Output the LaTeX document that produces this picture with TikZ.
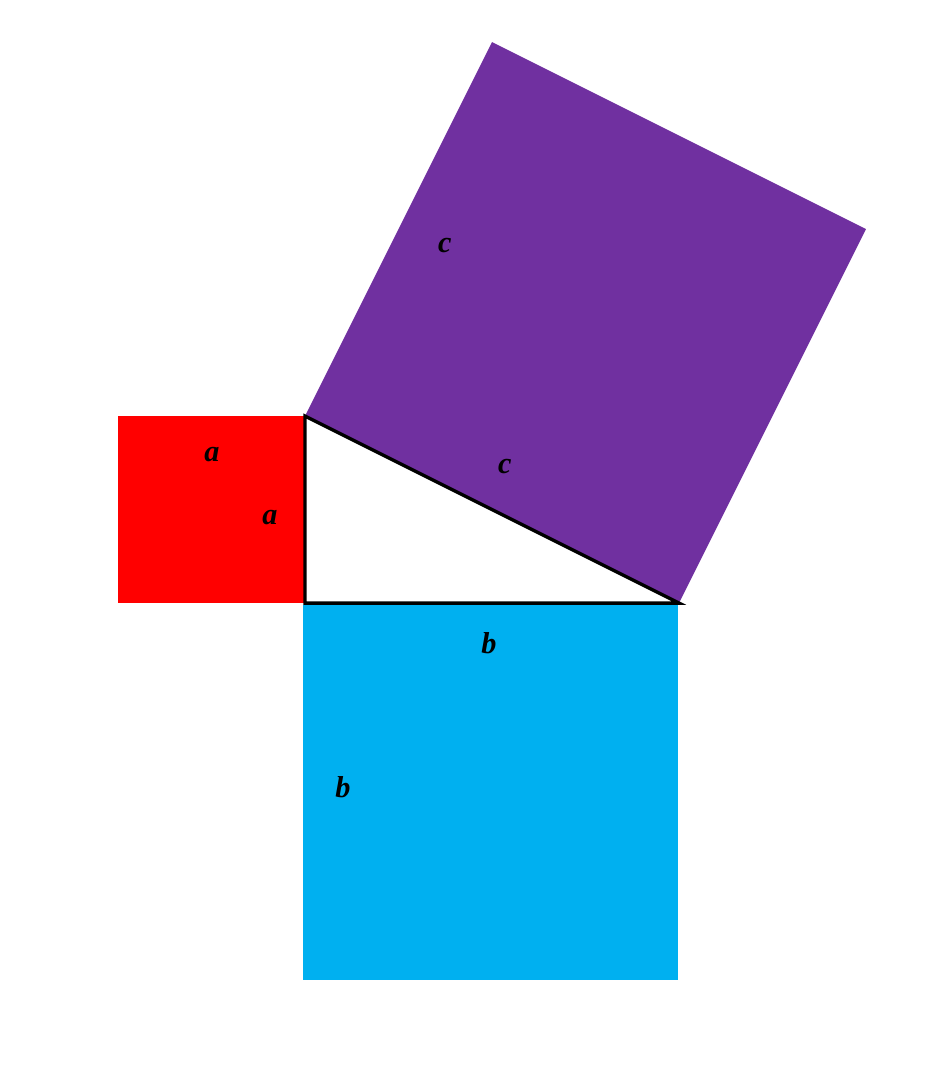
\documentclass[tikz,border=0pt]{standalone}
\usepackage{fontspec}
\setmainfont{Liberation Serif}
\definecolor{vierkantA}{HTML}{FF0000}
\definecolor{vierkantB}{HTML}{00B0F0}
\definecolor{vierkantC}{HTML}{7030A0}
\tikzset{zijde/.style={font=\fontsize{11.5}{13}\selectfont\bfseries\itshape, inner sep=0pt}}
\begin{document}
\begin{tikzpicture}[x=2.5cm, y=2.5cm]
	% kader
	\useasboundingbox (-1.631, -2.481) rectangle (3.337, 3.225);
	
	% hoekpunten
	\coordinate (O) at (0, 0);
	\coordinate (A) at (0, 1);
	\coordinate (B) at (2, 0);
	
	% vierkanten
	\fill[vierkantA] (-1, 0) rectangle (A);
	\fill[vierkantB] (-0.01, -0.012) rectangle (1.995, -2.016);
	\fill[vierkantC] (A) -- (B) -- (3, 2) -- (1, 3) -- cycle;
	
	% driehoek
	\draw[fill=white, line width=1.3pt] (O) -- (A) -- (B) -- cycle;
	
	% zijden
	\node[zijde] (a1) at (-0.498, 0.792) {a};
	\node[zijde] (a2) at (-0.188, 0.455) {a};
	\node[zijde] (b1) at (0.983, -0.214) {b};
	\node[zijde] (b2) at (0.203, -0.984) {b};
	\node[zijde] (c1) at (0.748, 1.910) {c};
	\node[zijde] (c2) at (1.069, 0.728) {c};
\end{tikzpicture}
\end{document}
